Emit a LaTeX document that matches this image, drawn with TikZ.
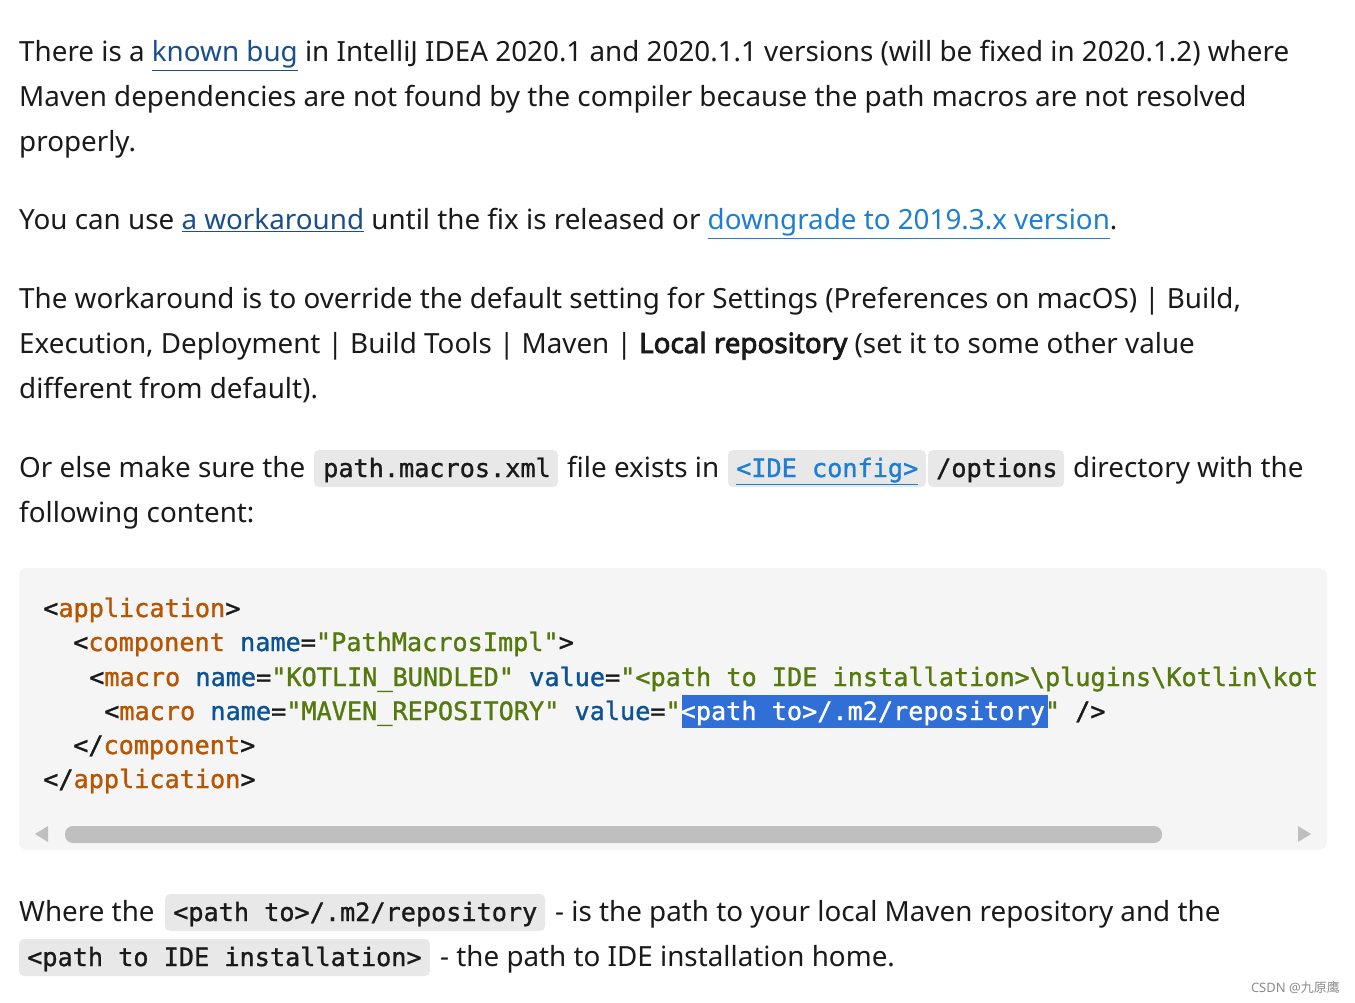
\documentclass[tikz,border=0pt]{standalone}
\usepackage{fontspec}
\setmainfont{Noto Sans}[BoldFont={Noto Sans},BoldFeatures={FakeBold=3}]
\newfontfamily\codef{DejaVu Sans Mono}[FakeBold=1.2]
\newfontfamily\cjkf{Noto Sans CJK SC}
\definecolor{tagc}{HTML}{B75501}
\definecolor{attc}{HTML}{0B5394}
\definecolor{strc}{HTML}{54790D}
\definecolor{linkA}{HTML}{1B4F8A}
\definecolor{linkB}{HTML}{1F7ED2}
\definecolor{codebg}{HTML}{F5F5F5}
\definecolor{inbg}{HTML}{E8E8E8}
\definecolor{hl}{HTML}{2F6FD6}
\definecolor{txt}{HTML}{1A1A1A}
\newcommand{\tg}[1]{\textcolor{tagc}{#1}}
\newcommand{\at}[1]{\textcolor{attc}{#1}}
\newcommand{\st}[1]{\textcolor{strc}{#1}}
\newcommand{\lk}[2]{\textcolor{#1}{\underline{#2}}}
\begin{document}
\begin{tikzpicture}[x=1pt,y=-1pt,
  body/.style={anchor=base west,inner sep=0,text=txt,font=\fontsize{27.8}{30}\selectfont},
  code/.style={anchor=base west,inner sep=0,text=txt,font=\fontsize{25.2}{30}\codef},
  inl/.style={fill=inbg,rounded corners=5pt,draw=none}]
\useasboundingbox (0,0) rectangle (1355,1003);
\fill[white] (0,0) rectangle (1355,1003);
% paragraph 1
\node[body] (p1) at (19,62) {There is a \lk{linkA}{known bug} in IntelliJ IDEA 2020.1 and 2020.1.1 versions (will be fixed in 2020.1.2) where};
\node[body] (p2) at (19,107) {Maven dependencies are not found by the compiler because the path macros are not resolved};
\node[body] (p3) at (19,152) {properly.};
\node[body] (p4) at (19,230) {You can use \lk{linkA}{a workaround} until the fix is released or \lk{linkB}{downgrade to 2019.3.x version}.};
\node[body] (p5) at (19,308) {The workaround is to override the default setting for Settings (Preferences on macOS) | Build,};
\node[body] (p6) at (19,353) {Execution, Deployment | Build Tools | Maven | \textbf{Local repository} (set it to some other value};
\node[body] (p7) at (19,398) {different from default).};
% inline code line
\fill[inl] (314,450) rectangle (558,487);
\fill[inl] (728,450) rectangle (926,487);
\fill[inl] (928,450) rectangle (1064,487);
\node[body] (q1) at (19,477) {Or else make sure the};
\node[code] (c1) at (323,477) {path.macros.xml};
\node[body] (q2) at (567,477) {file exists in};
\node[code,text=linkB] (c2) at (736,477) {\underline{<IDE\ config>}};
\node[code] (c3) at (936,477) {/options};
\node[body] (q3) at (1073,477) {directory with the};
\node[body] (q4) at (19,522) {following content:};
% code block
\fill[codebg,rounded corners=8pt] (19,568) rectangle (1327,850);
\fill[hl] (682,695) rectangle (1048,728);
\begin{scope}
\clip (19,568) rectangle (1327,850);
\node[code] (l1) at (43,617) {<\tg{application}>};
\node[code] (l2) at (73,651) {<\tg{component} \at{name}=\st{"PathMacrosImpl"}>};
\node[code] (l3) at (89,686) {<\tg{macro} \at{name}=\st{"KOTLIN\_BUNDLED"} \at{value}=\st{"<path to IDE installation>\textbackslash plugins\textbackslash Kotlin\textbackslash kot}};
\node[code] (l4) at (104,720) {<\tg{macro} \at{name}=\st{"MAVEN\_REPOSITORY"} \at{value}=\st{"\textcolor{white}{<path to>/.m2/repository}"} />};
\node[code] (l5) at (73,754) {</\tg{component}>};
\node[code] (l6) at (43,788) {</\tg{application}>};
\end{scope}
% scrollbar
\fill[black!25,rounded corners=8pt] (65,826) rectangle (1162,843);
\fill[black!25] (35,834) -- (48,826) -- (48,842) -- cycle;
\fill[black!25] (1311,834) -- (1298,826) -- (1298,842) -- cycle;
% bottom paragraph
\fill[inl] (165,894) rectangle (545,931);
\fill[inl] (19,939) rectangle (430,976);
\node[body] (r1) at (19,921) {Where the};
\node[code] (c4) at (173,921) {<path to>/.m2/repository};
\node[body] (r2) at (555,921) {- is the path to your local Maven repository and the};
\node[code] (c5) at (27,966) {<path to IDE installation>};
\node[body] (r3) at (440,966) {- the path to IDE installation home.};
\node[anchor=base east,inner sep=0,text=black!45,font=\fontsize{13}{15}\selectfont] (wm) at (1340,992) {CSDN @{\cjkf 九原鹰}};
\end{tikzpicture}
\end{document}
